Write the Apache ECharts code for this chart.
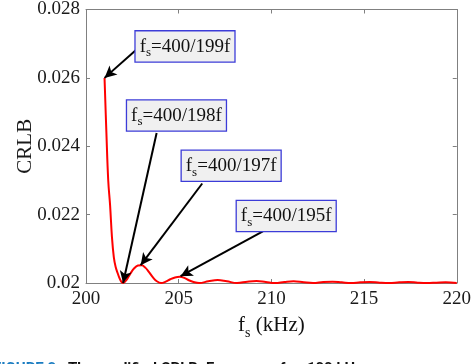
<!DOCTYPE html>
<html>
<head>
<meta charset="utf-8">
<script src="https://cdn.jsdelivr.net/npm/echarts@6/dist/echarts.min.js"></script>
<style>
html,body{margin:0;padding:0;background:#fff;}
#c{width:474px;height:364px;}
</style>
</head>
<body>
<div id="c"></div>
<script>
// ---- data ----
const fsKHz = [201.0, 201.1, 201.2, 201.3, 201.4, 201.5, 201.6, 201.7, 201.8, 201.9, 202.0,
  202.2, 202.4, 202.6, 202.8, 203.0, 203.2, 203.4, 203.6, 203.8, 204.05,
  204.3, 204.55, 204.8, 205.05, 205.3, 205.55, 205.8, 206.1, 206.6, 207.1, 207.6, 208.15,
  208.7, 209.2, 209.7, 210.2, 210.7, 211.2, 211.75, 212.25, 212.8, 213.3, 213.8, 214.3,
  214.8, 215.3, 215.85, 216.35, 216.9, 217.4, 217.9, 218.4, 218.9, 219.4, 220.0];
const crlb = [0.02600, 0.02440, 0.02299, 0.02227, 0.02134, 0.02076, 0.02047, 0.02030, 0.02015, 0.02004, 0.02000,
  0.02010, 0.02028, 0.02043, 0.02051, 0.02052, 0.02045, 0.02032, 0.02017, 0.02006, 0.02000,
  0.02004, 0.02011, 0.02016, 0.02018, 0.02015, 0.02008, 0.02003, 0.02000, 0.02005, 0.02009, 0.02005, 0.02000,
  0.02004, 0.02006, 0.02003, 0.02000, 0.02003, 0.02005, 0.02002, 0.02000, 0.02003, 0.02004, 0.02002, 0.02000,
  0.02002, 0.02003, 0.02001, 0.02000, 0.02002, 0.02003, 0.02001, 0.02000, 0.02001, 0.02002, 0.02000];

const xTicks = [200, 205, 210, 215, 220];
const yTicks = [0.02, 0.022, 0.024, 0.026, 0.028];

const annotText = ['=400/199f', '=400/198f', '=400/197f', '=400/195f'];
const annotTipX = [201.0, 202.0, 202.95, 205.1];
const annotTipY = [0.02600, 0.02000, 0.02052, 0.02020];
const annotTailX = [202.79, 203.81, 206.27, 209.54];
const annotTailY = [0.02686, 0.02439, 0.02291, 0.02151];
const boxX = [205.34, 204.88, 207.83, 210.8];
const boxY = [0.02692, 0.0249, 0.02343, 0.02196];

const serif = 'Liberation Serif';
function richSub(size, subSize, drop) {
  return {
    f: {fontFamily: serif, fontSize: size, color: '#111', textBorderWidth: 0},
    s: {fontFamily: serif, fontSize: subSize, color: '#111', padding: [drop, 0, 0, 0], textBorderWidth: 0},
    t: {fontFamily: serif, fontSize: size, color: '#111', textBorderWidth: 0}
  };
}

const chart = echarts.init(document.getElementById('c'), null, {renderer: 'canvas'});

const axisLineStyle = {color: '#808080', width: 1};
function xAx(pos, showLabel) {
  return {
    type: 'value', position: pos, min: xTicks[0], max: xTicks[xTicks.length - 1],
    interval: xTicks[1] - xTicks[0],
    axisLine: {show: true, onZero: false, lineStyle: axisLineStyle},
    axisTick: {show: true, inside: true, length: 4, lineStyle: axisLineStyle},
    axisLabel: {show: showLabel, fontFamily: serif, fontSize: 19, color: '#1a1a1a', margin: 7},
    splitLine: {show: false}
  };
}
function yAx(pos, showLabel) {
  return {
    type: 'value', position: pos, min: yTicks[0], max: yTicks[yTicks.length - 1],
    interval: +(yTicks[1] - yTicks[0]).toFixed(4),
    axisLine: {show: true, onZero: false, lineStyle: axisLineStyle},
    axisTick: {show: true, inside: true, length: 4, lineStyle: axisLineStyle},
    axisLabel: {show: showLabel, fontFamily: serif, fontSize: 19, color: '#1a1a1a', margin: 6,
      formatter: v => String(Number(v.toFixed(3)))},
    splitLine: {show: false}
  };
}

const xMain = xAx('bottom', true);
xMain.name = '{f|f}{s|s}{t| (kHz)}';
xMain.nameLocation = 'middle';
xMain.nameGap = 27;
xMain.nameMoveOverlap = false;
xMain.nameTextStyle = {rich: richSub(21, 14, 16)};
const yMain = yAx('left', true);
yMain.name = 'CRLB';
yMain.nameLocation = 'middle';
yMain.nameGap = 50;
yMain.nameMoveOverlap = false;
yMain.nameTextStyle = {fontFamily: serif, fontSize: 21, color: '#1a1a1a'};

const arrows = annotTipX.map((x, i) => [
  {coord: [annotTailX[i], annotTailY[i]], symbol: 'none'},
  {coord: [x, annotTipY[i]], symbol: 'arrow', symbolSize: [9, 12]}
]);
const boxes = boxX.map((x, i) => ({
  coord: [x, boxY[i]],
  label: {formatter: '{f|f}{s|s}{t|' + annotText[i] + '}'}
}));

chart.setOption({
  animation: false,
  backgroundColor: '#fff',
  grid: {left: 86, right: 15, top: 8, bottom: 81, containLabel: false},
  xAxis: [xMain, xAx('top', false)],
  yAxis: [yMain, yAx('right', false)],
  graphic: [{
    type: 'text', left: -7, top: 362,
    style: {
      text: '{b|FIGURE 2.}{k|  The modified CRLB. Frequency f₀ = 100 kHz.}',
      rich: {
        b: {fontFamily: 'Liberation Sans Narrow, Roboto, sans-serif', fontWeight: 'bold', fontSize: 15, fill: '#1a7cc1'},
        k: {fontFamily: 'Liberation Sans Narrow, Roboto, sans-serif', fontWeight: 'bold', fontSize: 15, fill: '#111'}
      }
    }
  }],
  series: [{
    type: 'line',
    data: fsKHz.map((x, i) => [x, crlb[i]]),
    showSymbol: false,
    smooth: 0.4,
    clip: false,
    lineStyle: {color: '#ff0000', width: 2},
    z: 3,
    markLine: {
      silent: true,
      animation: false,
      lineStyle: {color: '#000', width: 2, type: 'solid'},
      label: {show: false},
      data: arrows,
      z: 5
    },
    markPoint: {
      silent: true,
      animation: false,
      symbol: 'circle',
      symbolSize: 0,
      itemStyle: {color: 'rgba(0,0,0,0)'},
      label: {
        show: true, position: 'inside', rich: richSub(19, 13, 12),
        backgroundColor: '#f0f0f0', borderColor: '#3c3cd8', borderWidth: 1.3,
        padding: [3, 4, 2, 4], textBorderWidth: 0
      },
      data: boxes,
      z: 6
    }
  }]
});
</script>
</body>
</html>
